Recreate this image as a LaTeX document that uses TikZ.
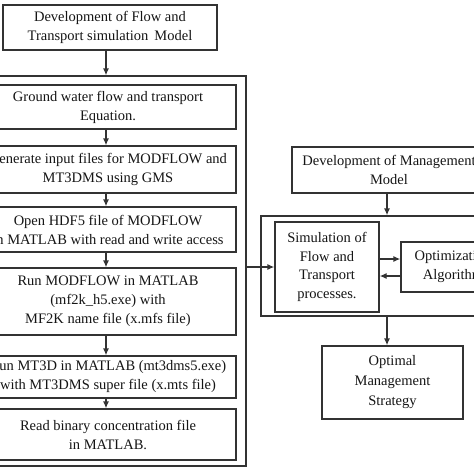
\documentclass[tikz,border=0pt]{standalone}
\usepackage{fontspec}
\setmainfont{Liberation Serif}
\usetikzlibrary{arrows.meta}
\definecolor{linec}{HTML}{333333}
\definecolor{txtc}{HTML}{151515}
\tikzset{
  box/.style={draw=linec, line width=1.3pt, rectangle, align=center, inner sep=0pt,
    text=txtc, font=\fontsize{14.5}{19}\selectfont},
  frame/.style={draw=linec, line width=1.3pt, rectangle, inner sep=0pt},
  arr/.style={draw=linec, line width=1.3pt, -{Latex[length=7pt,width=6pt]}}
}
\begin{document}
\begin{tikzpicture}[x=1pt,y=-1pt]
\useasboundingbox (0,0) rectangle (474,474);
\clip (0,0) rectangle (474,474);
\fill[white] (0,0) rectangle (474,474);
% left column
\node[box, minimum width=214, minimum height=45] (title) at (110,27.5) {Development of Flow and\\Transport simulation\, Model};
\node[frame, minimum width=276, minimum height=390] (frame) at (108,271) {};
\node[box, minimum width=256, minimum height=44] (b1) at (108,107) {Ground water flow and transport\\Equation.};
\node[box, minimum width=256, minimum height=47] (b2) at (108,169.5) {Generate input files for MODFLOW and\\MT3DMS using GMS};
\node[box, minimum width=256, minimum height=45] (b3) at (108,229.5) {Open HDF5 file of MODFLOW\\in MATLAB with read and write access};
\node[box, minimum width=256, minimum height=67] (b4) at (108,301.5) {Run MODFLOW in MATLAB\\(mf2k\_h5.exe) with\\MF2K name file (x.mfs file)};
\node[box, minimum width=256, minimum height=42] (b5) at (108,377) {Run MT3D in MATLAB (mt3dms5.exe)\\with MT3DMS super file (x.mts file)};
\node[box, minimum width=256, minimum height=51] (b6) at (108,434.5) {Read binary concentration file\\in MATLAB.};
\coordinate (ax) at (106,0);
\draw[arr] (title.south -| ax) -- (frame.north -| ax);
\draw[arr] (b1.south -| ax) -- (b2.north -| ax);
\draw[arr] (b2.south -| ax) -- (b3.north -| ax);
\draw[arr] (b3.south -| ax) -- (b4.north -| ax);
\draw[arr] (b4.south -| ax) -- (b5.north -| ax);
\draw[arr] (b5.south -| ax) -- (b6.north -| ax);
% right column
\node[box, minimum width=194, minimum height=46] (mgmt) at (389,170) {Development of Management\\Model};
\node[frame, minimum width=252, minimum height=100] (iframe) at (387,266) {};
\node[box, minimum width=104, minimum height=90, font=\fontsize{14.5}{18.5}\selectfont] (sim) at (327,267) {Simulation of\\Flow and\\Transport\\processes.};
\node[box, minimum width=104, minimum height=50] (opt) at (453,267) {Optimization\\Algorithm};
\node[box, minimum width=141, minimum height=73, font=\fontsize{14.5}{20}\selectfont] (strat) at (392.5,382.5) {Optimal\\Management\\Strategy};
\coordinate (bx) at (387,0);
\draw[arr] (mgmt.south -| bx) -- (iframe.north -| bx);
\draw[arr] (iframe.south -| bx) -- (strat.north -| bx);
\coordinate (ya) at (0,259);
\coordinate (yb) at (0,276);
\draw[arr] (sim.east |- ya) -- (opt.west |- ya);
\draw[arr] (opt.west |- yb) -- (sim.east |- yb);
\draw[arr] (frame.east |- sim.west) -- (sim.west);
\end{tikzpicture}
\end{document}
